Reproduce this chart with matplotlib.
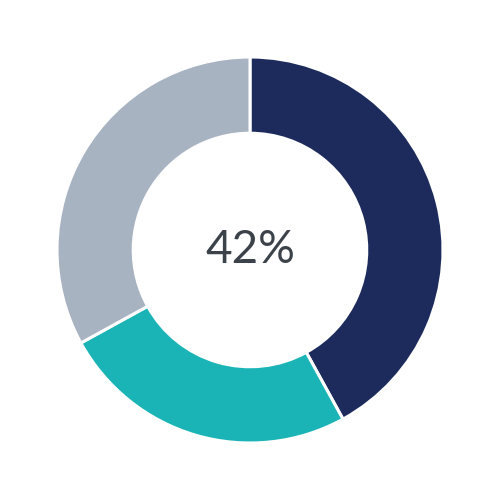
import matplotlib
matplotlib.use("Agg")
import matplotlib.pyplot as plt

labels = ["Navy", "Teal", "Gray"]
values = [42, 25, 33]
colors = ["#1c2b5b", "#1ab4b6", "#a8b3c2"]
center_label = "42%"

fig = plt.figure(figsize=(5, 5), dpi=100)
ax = fig.add_axes([0, 0, 1, 1])
ax.pie(values, colors=colors, startangle=90, counterclock=False,
       radius=1.0,
       wedgeprops=dict(width=0.395, edgecolor="white", linewidth=2.2))
ax.text(0, -0.068, center_label, ha="center", va="baseline", fontsize=33,
        color="#3b4249", family=["Lato", "DejaVu Sans"], fontweight="normal")
lim = 250 / 193
ax.set_xlim(-lim, lim)
ax.set_ylim(-lim, lim)
ax.set_aspect("equal")
ax.axis("off")
fig.savefig("out.png", dpi=100, facecolor="white")
